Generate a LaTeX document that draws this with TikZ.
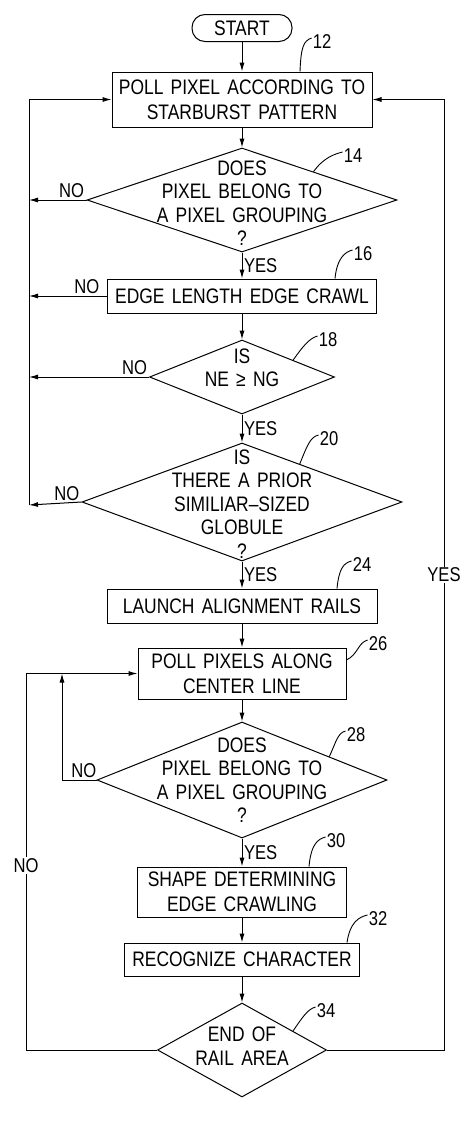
\documentclass[tikz,border=0pt]{standalone}
\usepackage{fontspec}
\setmainfont{Liberation Sans}[FakeStretch=0.83,WordSpace=1.5]
\usetikzlibrary{arrows.meta,shapes.geometric,calc}
\begin{document}
\begin{tikzpicture}[x=1pt,y=-1pt,
  every node/.style={font=\fontsize{21}{25}\selectfont},
  line/.style={line width=1pt},
  arr/.style={line width=1pt,-{Latex[length=9pt,width=5pt]}},
  box/.style={draw,line width=1pt,rectangle,inner sep=0pt,align=center},
  term/.style={draw,line width=1pt,rectangle,rounded corners=13pt,inner sep=0pt,minimum width=100pt,minimum height=27pt},
  dia/.style={draw,line width=1pt,diamond,inner sep=0pt},
  dtext/.style={align=center,inner sep=0pt,font=\fontsize{21}{23.5}\selectfont},
  num/.style={inner sep=0pt,font=\fontsize{20}{22}\selectfont},
  lead/.style={line width=0.9pt},
  lbl/.style={inner sep=1.5pt,font=\fontsize{20}{22}\selectfont},
  gap/.style={fill=white,inner sep=1pt,font=\fontsize{20}{22}\selectfont}
]
\useasboundingbox (0,0) rectangle (474,1122);

% nodes
\node[term] (start) at (242,28) {START};
\node[box,minimum width=260pt,minimum height=55pt] (b12) at (242,99.5) {POLL PIXEL ACCORDING TO\\STARBURST PATTERN};
\node[dia,minimum width=310pt,minimum height=104pt,
  label={[dtext,yshift=-3pt]center:{DOES\\PIXEL BELONG TO\\A PIXEL GROUPING\\?}}] (d14) at (242,200) {};
\node[box,minimum width=269pt,minimum height=34pt] (b16) at (242,296) {EDGE LENGTH EDGE CRAWL};
\node[dia,minimum width=185pt,minimum height=74pt,
  label={[dtext,yshift=9pt]center:{IS\\NE ≥ NG}}] (d18) at (242,377) {};
\node[dia,minimum width=320pt,minimum height=118pt,
  label={[dtext,yshift=-2pt]center:{IS\\THERE A PRIOR\\SIMILIAR--SIZED\\GLOBULE\\?}}] (d20) at (242,502) {};
\node[box,minimum width=270pt,minimum height=34pt] (b24) at (242,606) {LAUNCH ALIGNMENT RAILS};
\node[box,minimum width=208pt,minimum height=51pt] (b26) at (242,673.5) {POLL PIXELS ALONG\\CENTER LINE};
\node[dia,minimum width=290pt,minimum height=116pt,
  label={[dtext]center:{DOES\\PIXEL BELONG TO\\A PIXEL GROUPING\\?}}] (d28) at (242,780) {};
\node[box,minimum width=209pt,minimum height=50pt] (b30) at (242,892) {SHAPE DETERMINING\\EDGE CRAWLING};
\node[box,minimum width=235pt,minimum height=33pt] (b32) at (242,959.5) {RECOGNIZE CHARACTER};
\node[dia,minimum width=169pt,minimum height=94pt,
  label={[dtext,yshift=4pt]center:{END OF\\RAIL AREA}}] (d34) at (242,1050) {};

% reference numbers
\node[num] (n12) at (322,42) {12};
\node[num] (n14) at (353,156) {14};
\node[num] (n16) at (363,254) {16};
\node[num] (n18) at (328,340) {18};
\node[num] (n20) at (329,439) {20};
\node[num] (n24) at (362,565) {24};
\node[num] (n26) at (378,644) {26};
\node[num] (n28) at (356,735) {28};
\node[num] (n30) at (336,841) {30};
\node[num] (n32) at (378,919) {32};
\node[num] (n34) at (326,1011) {34};

% bus coordinates
\coordinate (Lx) at (29,0);
\coordinate (Ix) at (62,0);
\coordinate (Ox) at (26,0);
\coordinate (Rx) at (444,0);
\coordinate (Lbot) at (29,505);

% main spine
\draw[arr] (start) -- (b12);
\draw[arr] (b12) -- (d14);
\draw[arr] (d14.south) -- node[lbl,right]{YES} (b16.north);
\draw[arr] (b16) -- (d18);
\draw[arr] (d18.south) -- node[lbl,right]{YES} (d20.north);
\draw[arr] (d20.south) -- node[lbl,right]{YES} (b24.north);
\draw[arr] (b24) -- (b26);
\draw[arr] (b26) -- (d28);
\draw[arr] (d28.south) -- node[lbl,right]{YES} (b30.north);
\draw[arr] (b30) -- (b32);
\draw[arr] (b32) -- (d34);

% left NO bus
\draw[arr] (d14.west) -- node[pos=0.26,lbl,above]{NO} (d14.west -| Lx);
\draw[arr] (b16.west) -- node[pos=0.26,lbl,above]{NO} (b16.west -| Lx);
\draw[arr] (d18.west) -- node[pos=0.12,lbl,above]{NO} (d18.west -| Lx);
\draw[arr] (d20.west) -- node[pos=0.28,lbl,above]{NO} (Lbot);
\draw[arr] (Lbot) -- (Lx |- b12.west) -- (b12.west);

% inner loop
\draw[arr] (d28.west) -- node[pos=0.37,lbl,above]{NO} (d28.west -| Ix) -- (Ix |- b26.west);
% outer loop
\draw[arr] (d34.west) -- (d34.west -| Ox) -- node[pos=0.49,gap]{NO} (Ox |- b26.west) -- (b26.west);
% right YES loop
\draw[arr] (d34.east) -- (d34.east -| Rx) -- node[pos=0.5,gap]{YES} (Rx |- b12.east) -- (b12.east);

% leaders
\draw[lead] ($(b12.north)+(58,0)$) .. controls +(1,-25) and +(-8,3) .. ($(n12.west)+(-1,-4)$);
\draw[lead] ($(d14.north)!0.46!(d14.east)$) .. controls +(10,-14) and +(-8,2) .. ($(n14.west)+(-1,-4)$);
\draw[lead] ($(b16.north)+(93,0)$) .. controls +(2,-20) and +(-8,2) .. ($(n16.west)+(-1,-4)$);
\draw[lead] ($(d18.north)!0.55!(d18.east)$) .. controls +(9,-13) and +(-8,2) .. ($(n18.west)+(-1,-4)$);
\draw[lead] ($(d20.north)!0.36!(d20.east)$) .. controls +(8,-20) and +(-8,2) .. ($(n20.west)+(-1,-4)$);
\draw[lead] ($(b24.north)+(95,0)$) .. controls +(2,-20) and +(-8,2) .. ($(n24.west)+(-1,-4)$);
\draw[lead] ($(b26.east)+(0,-13.5)$) .. controls +(12,-6) and +(-10,3) .. ($(n26.west)+(-1,-4)$);
\draw[lead] ($(d28.north)!0.6!(d28.east)$) .. controls +(7,-15) and +(-8,2) .. ($(n28.west)+(-1,-4)$);
\draw[lead] ($(b30.north)+(67,0)$) .. controls +(2,-22) and +(-8,2) .. ($(n30.west)+(-1,-4)$);
\draw[lead] ($(b32.north)+(105,0)$) .. controls +(3,-20) and +(-9,2) .. ($(n32.west)+(-1,-4)$);
\draw[lead] ($(d34.north)!0.6!(d34.east)$) .. controls +(9,-13) and +(-8,2) .. ($(n34.west)+(-1,-4)$);
\end{tikzpicture}
\end{document}
